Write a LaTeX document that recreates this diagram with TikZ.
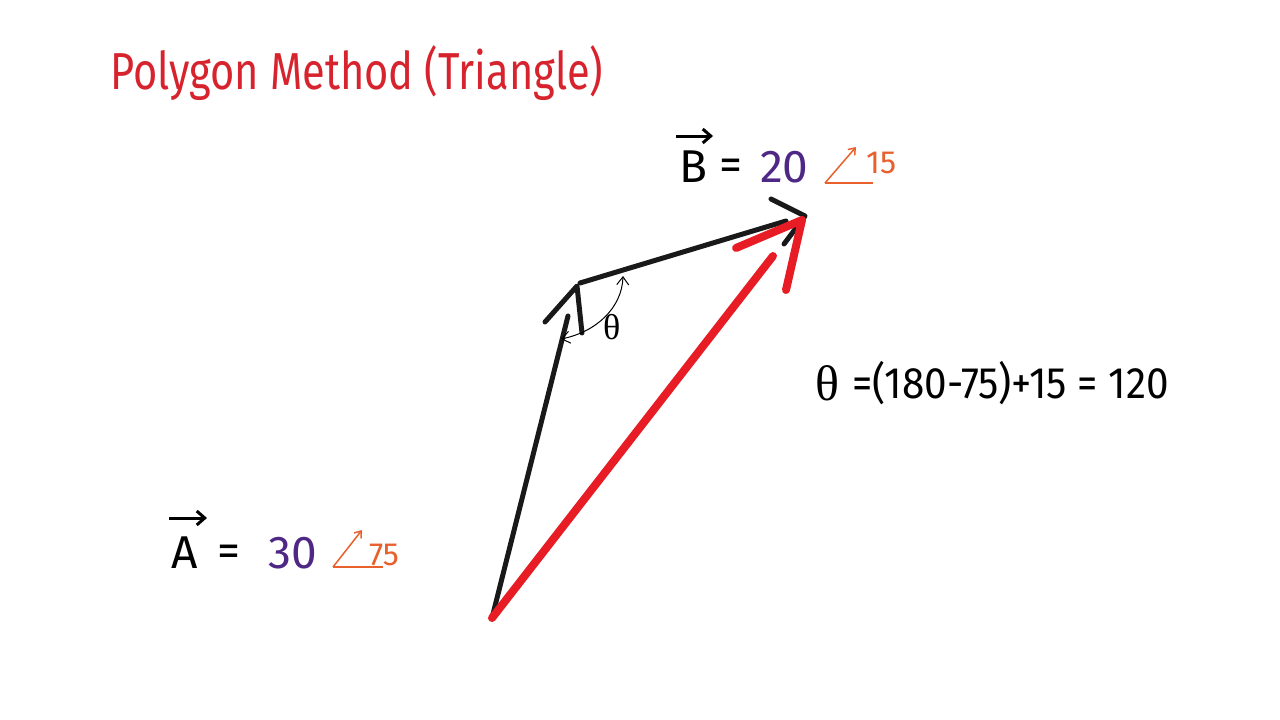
\documentclass[tikz,border=0pt]{standalone}
\usepackage{fontspec}
\setmainfont{Fira Sans}
\newfontfamily\serifth{Liberation Serif}
\newfontfamily\narrowsans[FakeStretch=0.8]{Fira Sans}
\newfontfamily\eqsans[FakeStretch=0.92]{Fira Sans}
\usetikzlibrary{arrows.meta}
\definecolor{titlered}{RGB}{214,35,45}
\definecolor{vecred}{RGB}{232,28,36}
\definecolor{numpurple}{RGB}{78,40,132}
\definecolor{angorange}{RGB}{232,96,44}
\tikzset{
  blackvec/.style={line width=5pt, line cap=round, line join=round, black!90},
  redvec/.style={line width=8pt, line cap=round, line join=round, vecred},
  lbl/.style={inner sep=0pt, anchor=base west},
  bigtxt/.style={font=\fontsize{46}{50}\selectfont},
  angline/.style={line width=1.5pt, angorange},
  overarrow/.style={line width=3pt, black, -{Straight Barb[length=8pt,width=14pt,line width=3pt]}},
  thetaarc/.style={line width=1pt, black, {Straight Barb[length=8pt,width=12pt]}-{Straight Barb[length=8pt,width=12pt]}}
}
\begin{document}
\begin{tikzpicture}[x=1pt,y=-1pt]
\useasboundingbox[fill=white] (0,0) rectangle (1280,720);

% title
\node[lbl, text=titlered, font=\narrowsans\fontsize{52}{58}\selectfont] (title) at (110,89) {Polygon Method (Triangle)};

% vector geometry
\coordinate (O) at (492,618);
\coordinate (Aend) at (568,316);
\coordinate (AtipL) at (545,322);
\coordinate (Atip) at (577,286);
\coordinate (AtipR) at (582,333);
\coordinate (Bstart) at (580,283);
\coordinate (Bend) at (786,221);
\coordinate (BtipL) at (771,199);
\coordinate (Btip) at (805,216);
\coordinate (BtipR) at (784,244);
\coordinate (Rend) at (773,256);
\coordinate (RtipL) at (736,248);
\coordinate (Rtip) at (802,220);
\coordinate (RtipR) at (786,290);

\draw[blackvec] (O) -- (Aend);
\draw[blackvec] (AtipL) -- (Atip) -- (AtipR);
\draw[blackvec] (Bstart) -- (Bend);
\draw[blackvec] (BtipL) -- (Btip) -- (BtipR);
\draw[redvec] (O) -- (Rend);
\draw[redvec] (RtipL) -- (Rtip) -- (RtipR);

% angle theta
\coordinate (th1) at (623,276);
\coordinate (th2) at (561,339);
\draw[thetaarc] (th1) .. controls (622,308) and (596,332) .. (th2);
\node[lbl, font=\serifth\fontsize{36}{40}\selectfont] (thlbl) at (603,339) {θ};

% A label
\node[lbl, bigtxt] (Alet) at (171,568) {A};
\coordinate (Aa1) at (169,518);
\coordinate (Aa2) at (207,518);
\draw[overarrow] (Aa1) -- (Aa2);
\node[lbl, bigtxt] (Aeq) at (217,566) {=};
\node[lbl, bigtxt, text=numpurple] (Amag) at (268,568) {30};
\coordinate (Ac) at (333,567);
\coordinate (Ad) at (362,530);
\coordinate (Ab) at (383,567);
\draw[angline, -{Straight Barb[length=6pt,width=9pt]}] (Ac) -- (Ad);
\draw[angline] (Ac) -- (Ab);
\node[lbl, text=angorange, font=\fontsize{32}{36}\selectfont] (Aang) at (369,565) {75};

% B label
\node[lbl, bigtxt] (Blet) at (679,182) {B};
\coordinate (Ba1) at (676,136);
\coordinate (Ba2) at (713,136);
\draw[overarrow] (Ba1) -- (Ba2);
\node[lbl, bigtxt] (Beq) at (719,180) {=};
\node[lbl, bigtxt, text=numpurple] (Bmag) at (760,182) {20};
\coordinate (Bc) at (825,183);
\coordinate (Bd) at (856,147);
\coordinate (Bb) at (873,183);
\draw[angline, -{Straight Barb[length=6pt,width=9pt]}] (Bc) -- (Bd);
\draw[angline] (Bc) -- (Bb);
\node[lbl, text=angorange, font=\fontsize{32}{36}\selectfont] (Bang) at (866,173) {15};

% equation
\node[lbl, font=\serifth\fontsize{50}{54}\selectfont] (eqth) at (815,400) {θ};
\node[lbl, font=\eqsans\fontsize{44}{48}\selectfont] (eq) at (852,398) {=(180-75)+15 = 120};
\end{tikzpicture}
\end{document}
